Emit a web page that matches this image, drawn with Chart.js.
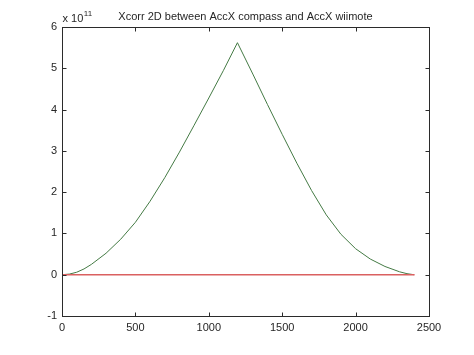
<!DOCTYPE html>
<html>
<head>
<meta charset="utf-8">
<script src="https://cdn.jsdelivr.net/npm/chart.js@4/dist/chart.umd.min.js"></script>
<style>
html,body{margin:0;padding:0;background:#fff;}
canvas{display:block;}
</style>
</head>
<body>
<canvas id="c" width="474" height="355"></canvas>
<script>
// Data (y values in units of 1e11)
const lags = [0, 50, 100, 150, 200, 300, 400, 500, 600, 700, 800, 900, 1000, 1100, 1195,
              1300, 1400, 1500, 1600, 1700, 1800, 1900, 2000, 2100, 2200, 2300, 2350, 2398];
const xcorrValues = [0, 0.015, 0.06, 0.14, 0.25, 0.52, 0.86, 1.27, 1.78, 2.35, 2.97, 3.62, 4.28, 4.95, 5.62,
                     4.86, 4.12, 3.40, 2.70, 2.04, 1.45, 0.98, 0.63, 0.38, 0.20, 0.07, 0.025, 0];
const redLags = [0, 2402];
const redValues = [0, 0];
const xTicks = [0, 500, 1000, 1500, 2000, 2500];
const yTicks = [-1, 0, 1, 2, 3, 4, 5, 6];
const titleText = 'Xcorr 2D between AccX compass and AccX wiimote';
const exponentBase = 'x 10';
const exponentPower = '11';

const FONT = 'Arial, "Liberation Sans", Helvetica, sans-serif';
const TEXT = '#262626';

const framePlugin = {
  id: 'frame',
  afterDraw(chart) {
    const ctx = chart.ctx;
    const a = chart.chartArea;
    const xs = chart.scales.x, ys = chart.scales.y;
    ctx.save();
    ctx.strokeStyle = '#2b2b2b';
    ctx.lineWidth = 1;
    const L = Math.round(a.left) + 0.5, R = Math.round(a.right) + 0.5;
    const T = Math.round(a.top) + 0.5, B = Math.round(a.bottom) + 0.5;
    ctx.strokeRect(L, T, R - L, B - T);
    const tl = 4;
    ctx.beginPath();
    xTicks.forEach(v => {
      const px = Math.round(xs.getPixelForValue(v)) + 0.5;
      ctx.moveTo(px, B); ctx.lineTo(px, B - tl);
      ctx.moveTo(px, T); ctx.lineTo(px, T + tl);
    });
    yTicks.forEach(v => {
      const py = Math.round(ys.getPixelForValue(v)) + 0.5;
      ctx.moveTo(L, py); ctx.lineTo(L + tl, py);
      ctx.moveTo(R, py); ctx.lineTo(R - tl, py);
    });
    ctx.stroke();
    // title
    ctx.fillStyle = TEXT;
    ctx.font = '11px ' + FONT;
    ctx.textAlign = 'center';
    ctx.textBaseline = 'alphabetic';
    ctx.fillText(titleText, (a.left + a.right) / 2, 20);
    // exponent
    ctx.textAlign = 'left';
    ctx.fillText(exponentBase, a.left + 0.5, 22);
    const w = ctx.measureText(exponentBase).width;
    ctx.font = '8px ' + FONT;
    ctx.fillText(exponentPower, a.left + 0.5 + w + 0.5, 16);
    ctx.restore();
  }
};

new Chart(document.getElementById('c'), {
  type: 'line',
  data: {
    datasets: [
      {
        data: redLags.map((x, i) => ({x, y: redValues[i]})),
        borderColor: 'rgb(218,96,96)',
        borderWidth: 1.5,
        pointRadius: 0,
        tension: 0
      },
      {
        data: lags.map((x, i) => ({x, y: xcorrValues[i]})),
        borderColor: 'rgb(68,122,68)',
        borderWidth: 1,
        pointRadius: 0,
        tension: 0
      }
    ]
  },
  options: {
    responsive: false,
    animation: false,
    devicePixelRatio: 1,
    layout: { padding: { top: 27, right: 45, left: 0, bottom: 0 } },
    plugins: { legend: { display: false }, title: { display: false }, tooltip: { enabled: false } },
    scales: {
      x: {
        type: 'linear',
        min: 0, max: 2500,
        afterBuildTicks: s => { s.ticks = xTicks.map(v => ({value: v})); },
        afterFit: s => { s.height = 39; },
        grid: { display: false, drawTicks: false },
        border: { display: false },
        ticks: { padding: 5, color: TEXT, font: { family: FONT, size: 11 }, maxRotation: 0, autoSkip: false,
                 callback: v => String(v) }
      },
      y: {
        type: 'linear',
        min: -1, max: 6,
        afterBuildTicks: s => { s.ticks = yTicks.map(v => ({value: v})); },
        afterFit: s => { s.width = 62; },
        grid: { display: false, drawTicks: false },
        border: { display: false },
        ticks: { padding: 5, color: TEXT, font: { family: FONT, size: 11 }, autoSkip: false,
                 callback: v => String(v) }
      }
    }
  },
  plugins: [framePlugin]
});
</script>
</body>
</html>
